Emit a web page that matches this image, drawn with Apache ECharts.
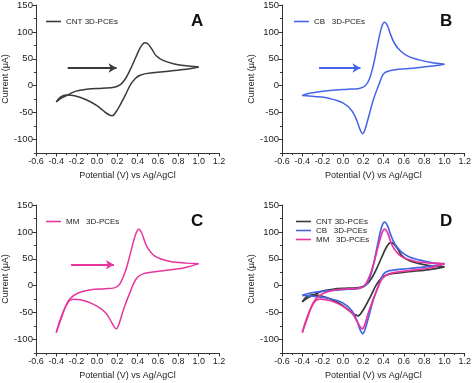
<!DOCTYPE html>
<html>
<head>
<meta charset="utf-8">
<script src="https://cdn.jsdelivr.net/npm/echarts@6/dist/echarts.min.js"></script>
<style>html,body{margin:0;padding:0;background:#fff;}#c{width:474px;height:383px;}</style>
</head>
<body>
<div id="c"></div>
<script>
// ---- data (potential V, current uA) ----
const cntFwdE = [-0.40,-0.35,-0.30,-0.22,-0.10,0.05,0.17,0.23,0.28,0.33,0.38,0.43,0.47,0.50,0.54,0.58,0.65,0.75,0.85,1.00];
const cntFwdI = [-30,-23,-18.5,-11,-6.5,-4.5,-3,2,13,31,52,72,80,78,68,56,47,41,37.5,35];
const cntRevE = [1.00,0.85,0.65,0.48,0.42,0.38,0.33,0.28,0.23,0.19,0.15,0.11,0.06,0.00,-0.10,-0.22,-0.30,-0.36,-0.40];
const cntRevI = [35,30,26,22.5,19,14,2,-17,-35,-48,-56,-53,-46,-37,-26.5,-18.6,-17,-21,-30];

const cbFwdE = [-0.40,-0.33,-0.25,-0.10,0.05,0.16,0.22,0.26,0.30,0.34,0.38,0.41,0.44,0.47,0.51,0.57,0.65,0.75,0.87,1.00];
const cbFwdI = [-18,-14,-11.5,-8.5,-6.5,-5,0,12,38,75,108,118,111,95,78,64,54,48,43,40];
const cbRevE = [1.00,0.86,0.65,0.46,0.40,0.35,0.30,0.25,0.22,0.195,0.17,0.14,0.09,0.00,-0.15,-0.28,-0.40];
const cbRevI = [40,36,32,28,22,0,-26,-60,-80,-89,-82,-66,-47,-32,-23,-20,-18];

const mmFwdE = [-0.40,-0.37,-0.32,-0.27,-0.19,-0.06,0.08,0.17,0.22,0.28,0.33,0.38,0.41,0.44,0.49,0.57,0.72,0.88,1.00];
const mmFwdI = [-87,-68,-43,-25,-14,-7.5,-5.5,-4,2,27,61,95,105,98,73,55,45,42,41];
const mmRevE = [1.00,0.85,0.65,0.46,0.39,0.33,0.26,0.21,0.19,0.15,0.09,0.00,-0.12,-0.22,-0.27,-0.31,-0.35,-0.40];
const mmRevI = [41,33,28,22.5,14,-10,-45,-75,-80,-70,-51,-38,-28,-25,-28,-40,-60,-87];

// scan-direction arrows: [startE, endE, current]
const cntArrow = [-0.287, 0.193, 33];
const cbArrow = [-0.235, 0.173, 33];
const mmArrow = [-0.254, 0.167, 39];

const yLabelValues = [-100,-50,0,50,100,150];
const names = ['CNT 3D-PCEs','CB   3D-PCEs','MM   3D-PCEs'];
const colors = ['#3a3a3a','#4565e6','#e8359e'];
const panelLetters = ['A','B','C','D'];

const zip = (a,b) => a.map((v,i)=>[v,b[i]]);
const curves = [
  [zip(cntFwdE,cntFwdI), zip(cntRevE,cntRevI), cntArrow],
  [zip(cbFwdE,cbFwdI), zip(cbRevE,cbRevI), cbArrow],
  [zip(mmFwdE,mmFwdI), zip(mmRevE,mmRevI), mmArrow]
];

const FONT = 'Arial, "Liberation Sans", sans-serif';
const grids = [
  {left:34, top:5, width:185, height:148},
  {left:282, top:5, width:187, height:148},
  {left:34, top:205, width:185, height:148},
  {left:282, top:205, width:187, height:148}
];

const xAxes = [], yAxes = [], series = [], legends = [], graphics = [];
grids.forEach((g,i)=>{
  xAxes.push({
    gridIndex:i, type:'value', min:-0.6, max:1.2, interval:0.2,
    name:'Potential (V) vs Ag/AgCl', nameLocation:'middle', nameGap:18,
    nameTextStyle:{fontFamily:FONT, fontSize:9, color:'#222'},
    axisLine:{show:true, onZero:false, lineStyle:{color:'#333', width:1}},
    axisTick:{show:true, length:3.5, lineStyle:{color:'#333'}},
    minorTick:{show:true, splitNumber:2, length:2, lineStyle:{color:'#333'}},
    splitLine:{show:false},
    axisLabel:{fontFamily:FONT, fontSize:9, color:'#222', margin:4,
      formatter:v=>{const r=Math.round(v*10)/10; return (Math.abs(r)<1e-9?0:r).toFixed(1);}}
  });
  yAxes.push({
    gridIndex:i, type:'value', min:-125, max:150, interval:25, position:'left',
    name:'Current (\u03bcA)', nameLocation:'middle', nameGap:24, nameRotate:90,
    nameTextStyle:{fontFamily:FONT, fontSize:9, color:'#222'},
    axisLine:{show:true, onZero:false, lineStyle:{color:'#333', width:1}},
    axisTick:{show:true, length:3.5, customValues:yLabelValues, lineStyle:{color:'#333'}},
    splitLine:{show:false},
    axisLabel:{fontFamily:FONT, fontSize:9.5, color:'#222', margin:3, customValues:yLabelValues}
  });
  yAxes.push({
    gridIndex:i, type:'value', min:-125, max:150, interval:25, position:'left',
    axisLine:{show:false, onZero:false}, axisLabel:{show:false}, splitLine:{show:false},
    axisTick:{show:true, length:2, lineStyle:{color:'#333'}}
  });
  graphics.push({type:'text', left:(i%2===0?191:440), top:(i<2?13:213),
    style:{text:panelLetters[i], font:'bold 17px '+FONT, fill:'#111'}});
});

function addCurve(k, panel, lw, arrow){
  const [fwd, rev, arr] = curves[k];
  const base = {type:'line', name:names[k], xAxisIndex:panel, yAxisIndex:panel*2,
    symbol:'none', smooth:0.35, color:colors[k],
    lineStyle:{color:colors[k], width:lw}, itemStyle:{color:colors[k]}, silent:true, z:2+k};
  const s1 = Object.assign({}, base, {data:fwd});
  if (arrow) {
    s1.markLine = {silent:true, symbol:['none','arrow'], symbolSize:[7,8], animation:false,
      label:{show:false}, lineStyle:{color:colors[k], width:2, type:'solid'},
      data:[[{coord:[arr[0],arr[2]]},{coord:[arr[1],arr[2]]}]]};
  }
  series.push(s1);
  series.push(Object.assign({}, base, {data:rev}));
}
addCurve(0,0,1.5,true);
addCurve(1,1,1.5,true);
addCurve(2,2,1.5,true);
addCurve(0,3,1.7,false);
addCurve(1,3,1.7,false);
addCurve(2,3,1.7,false);

const legendBase = {orient:'vertical', icon:'rect', itemWidth:15, itemHeight:1.6, itemGap:0, padding:0,
  selectedMode:false, textStyle:{fontFamily:FONT, fontSize:8, color:'#222', lineHeight:9}};
legends.push(Object.assign({}, legendBase, {left:46, top:17, data:[names[0]]}));
legends.push(Object.assign({}, legendBase, {left:294, top:17, data:[names[1]]}));
legends.push(Object.assign({}, legendBase, {left:46, top:217, data:[names[2]]}));
legends.push(Object.assign({}, legendBase, {left:296, top:217, data:names}));

const chart = echarts.init(document.getElementById('c'), null, {renderer:'canvas'});
chart.setOption({
  animation:false, backgroundColor:'#fff',
  grid:grids, xAxis:xAxes, yAxis:yAxes, series:series, legend:legends, graphic:graphics
});
</script>
</body>
</html>
